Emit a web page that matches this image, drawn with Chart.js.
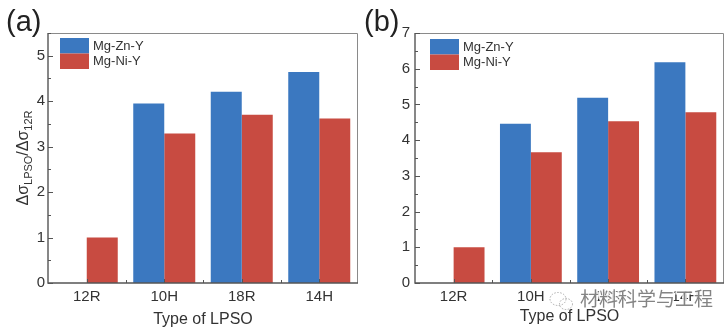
<!DOCTYPE html>
<html>
<head>
<meta charset="utf-8">
<script src="https://cdn.jsdelivr.net/npm/chart.js@4.4.1/dist/chart.umd.min.js"></script>
<style>
  html, body { margin: 0; padding: 0; background: #fff; }
  #wrap { position: relative; width: 728px; height: 334px; overflow: hidden; }
  .panel { position: absolute; top: 0; width: 364px; height: 334px; }
</style>
</head>
<body>
<div id="wrap">
  <div class="panel" style="left:0"><canvas id="chartA" width="364" height="334"></canvas></div>
  <div class="panel" style="left:364px"><canvas id="chartB" width="364" height="334"></canvas></div>
</div>
<script>
const categories = ['12R', '10H', '18R', '14H'];
const seriesNames = ['Mg-Zn-Y', 'Mg-Ni-Y'];

// panel (a): strength increment relative to 12R
const znRatioA = [null, 3.95, 4.21, 4.64];
const niRatioA = [1.0, 3.29, 3.70, 3.62];
const yTicksA = [0, 1, 2, 3, 4, 5];

// panel (b): ESAF contribution relative to 12R
const znRatioB = [null, 4.46, 5.19, 6.18];
const niRatioB = [1.0, 3.66, 4.53, 4.78];
const yTicksB = [0, 1, 2, 3, 4, 5, 6, 7];

const FONT = "'Liberation Sans', Arial, sans-serif";
const BLUE = '#3b78c0';
const RED = '#c84b41';
const TEXT = '#333';

// frame, inward ticks, titles and legend, drawn on top of the bars
const decorPlugin = {
  id: 'decor',
  afterDraw(chart, args, opts) {
    const ctx = chart.ctx;
    const a = chart.chartArea;
    const xs = chart.scales.x;
    const ys = chart.scales.y;
    ctx.save();

    // box
    ctx.strokeStyle = '#8a8a8a';
    ctx.lineWidth = 1;
    ctx.beginPath();
    ctx.moveTo(a.left, a.top + 0.5);
    ctx.lineTo(a.right - 0.5, a.top + 0.5);
    ctx.lineTo(a.right - 0.5, a.bottom);
    ctx.stroke();
    ctx.strokeStyle = '#555';
    ctx.lineWidth = 1.4;
    ctx.beginPath();
    ctx.moveTo(a.left, a.top);
    ctx.lineTo(a.left, a.bottom);
    ctx.lineTo(a.right, a.bottom);
    ctx.stroke();

    // y ticks, major + minor, pointing inward
    ctx.lineWidth = 1;
    for (let v = 0; v <= ys.max + 1e-6; v += 0.5) {
      const y = Math.round(ys.getPixelForValue(v)) + 0.5;
      const len = Number.isInteger(v) ? 5 : 3;
      ctx.beginPath();
      ctx.moveTo(a.left, y);
      ctx.lineTo(a.left + len, y);
      ctx.stroke();
    }
    // x ticks at category centres and minor ones between them
    categories.forEach((c, i) => {
      const x = Math.round(xs.getPixelForValue(i)) + 0.5;
      ctx.beginPath();
      ctx.moveTo(x, a.bottom);
      ctx.lineTo(x, a.bottom - 4);
      ctx.stroke();
      if (i > 0) {
        const xm = Math.round((xs.getPixelForValue(i) + xs.getPixelForValue(i - 1)) / 2) + 0.5;
        ctx.beginPath();
        ctx.moveTo(xm, a.bottom);
        ctx.lineTo(xm, a.bottom - 3);
        ctx.stroke();
      }
    });

    // panel letter
    ctx.fillStyle = '#222';
    ctx.font = '29px ' + FONT;
    ctx.textAlign = 'left';
    ctx.textBaseline = 'alphabetic';
    ctx.fillText(opts.letter, opts.letterX, 31);

    // x title
    ctx.fillStyle = TEXT;
    ctx.font = '16px ' + FONT;
    ctx.textAlign = 'center';
    ctx.textBaseline = 'middle';
    ctx.fillText('Type of LPSO', (a.left + a.right) / 2, opts.xTitleY);

    // y title with subscripts, rotated
    const mainFont = '16px ' + FONT;
    const subFont = '11px ' + FONT;
    let total = 0;
    opts.yTitle.forEach(p => {
      ctx.font = p.sub ? subFont : mainFont;
      p.w = ctx.measureText(p.t).width;
      total += p.w;
    });
    ctx.translate(opts.yTitleX, (a.top + a.bottom) / 2);
    ctx.rotate(-Math.PI / 2);
    ctx.textAlign = 'left';
    let pos = -total / 2;
    opts.yTitle.forEach(p => {
      ctx.font = p.sub ? subFont : mainFont;
      ctx.fillText(p.t, pos, p.sub ? 5 : 0);
      pos += p.w;
    });
    ctx.setTransform(1, 0, 0, 1, 0, 0);

    // legend
    const lx = a.left + opts.legendDx;
    let ly = a.top + opts.legendDy;
    chart.data.datasets.forEach(ds => {
      ctx.fillStyle = ds.backgroundColor;
      ctx.fillRect(lx, ly, 29, 15.5);
      ctx.fillStyle = TEXT;
      ctx.font = '13px ' + FONT;
      ctx.textAlign = 'left';
      ctx.textBaseline = 'middle';
      ctx.fillText(ds.label, lx + 33, ly + 8);
      ly += 15.5;
    });

    // watermark
    if (opts.watermark) {
      ctx.strokeStyle = 'rgba(130,130,130,0.8)';
      ctx.lineWidth = 0.8;
      ctx.setLineDash([1.5, 1.5]);
      ctx.beginPath();
      ctx.ellipse(194, 299, 8, 6.5, 0, 0, Math.PI * 2);
      ctx.stroke();
      ctx.beginPath();
      ctx.ellipse(202, 304, 6.5, 5.5, 0, 0, Math.PI * 2);
      ctx.stroke();
      ctx.setLineDash([]);
      ctx.font = "19px 'Noto Sans CJK SC', sans-serif";
      ctx.textAlign = 'left';
      ctx.textBaseline = 'middle';
      ctx.lineWidth = 3;
      ctx.strokeStyle = 'rgba(255,255,255,0.85)';
      ctx.strokeText(opts.watermark, 216, 299);
      ctx.fillStyle = 'rgba(110,110,110,0.85)';
      ctx.fillText(opts.watermark, 216, 299);
    }
    ctx.restore();
  }
};

function makeChart(id, zn, ni, yTicks, yMax, axisW, padRight, tickPad, decor) {
  return new Chart(document.getElementById(id), {
    type: 'bar',
    data: {
      labels: categories,
      datasets: [
        { label: seriesNames[0], data: zn, backgroundColor: BLUE, borderWidth: 0 },
        { label: seriesNames[1], data: ni, backgroundColor: RED, borderWidth: 0 }
      ]
    },
    options: {
      responsive: false,
      animation: false,
      layout: { padding: { left: 0, right: padRight, top: 33, bottom: 0 } },
      categoryPercentage: 0.8,
      barPercentage: 1.0,
      plugins: {
        legend: { display: false },
        tooltip: { enabled: false },
        decor: decor
      },
      scales: {
        x: {
          grid: { display: false, drawTicks: false },
          border: { display: false },
          ticks: { color: TEXT, font: { family: FONT, size: 15 }, padding: 5 },
          afterFit: s => { s.height = 51; }
        },
        y: {
          min: 0,
          max: yMax,
          grid: { display: false, drawTicks: false },
          border: { display: false },
          afterBuildTicks: s => { s.ticks = yTicks.map(v => ({ value: v })); },
          ticks: { color: TEXT, font: { family: FONT, size: 15 }, padding: tickPad },
          afterFit: s => { s.width = axisW; }
        }
      }
    },
    plugins: [decorPlugin]
  });
}

makeChart('chartA', znRatioA, niRatioA, yTicksA, 5.5, 48, 6, 3, {
  letter: '(a)', letterX: 6, xTitleY: 320, yTitleX: 24, legendDx: 12, legendDy: 5,
  yTitle: [{ t: 'Δσ' }, { t: 'LPSO', sub: true }, { t: '/Δσ' }, { t: '12R', sub: true }]
});

makeChart('chartB', znRatioB, niRatioB, yTicksB, 7, 51, 4, 5, {
  letter: '(b)', letterX: 0, xTitleY: 317, yTitleX: 390, legendDx: 15, legendDy: 6,
  yTitle: [{ t: 'Δσ' }, { t: 'LPSO-ESAF', sub: true }, { t: '/Δσ' }, { t: '12R-ESAF', sub: true }],
  watermark: '材料科学与工程'
});
</script>
</body>
</html>
